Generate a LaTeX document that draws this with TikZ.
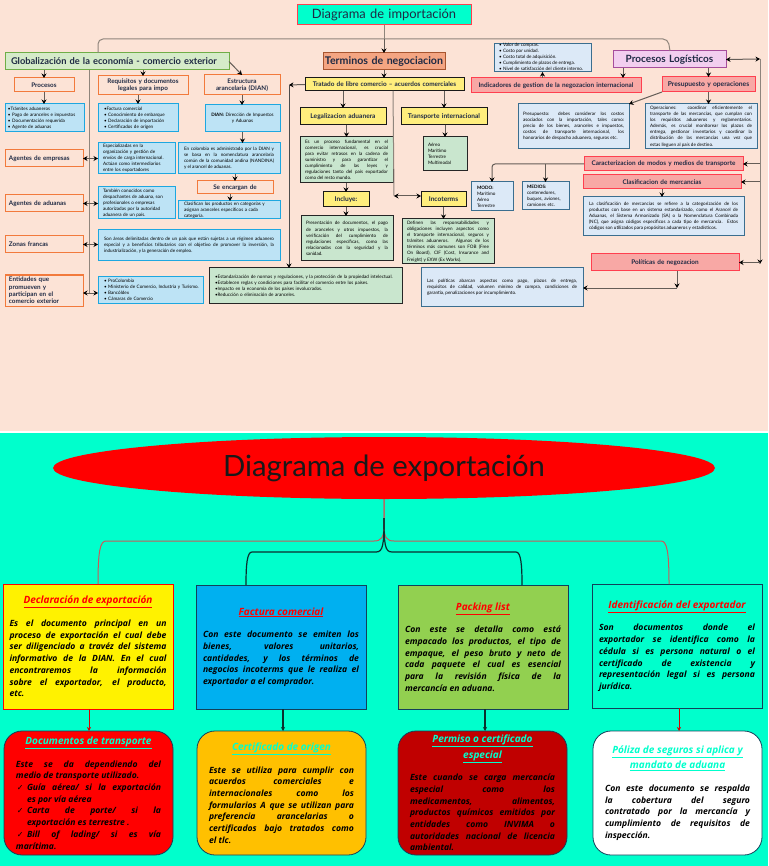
\documentclass[tikz,border=0pt]{standalone}
\usepackage{fontspec}
\setmainfont{Lato}
\newfontfamily\djf{DejaVu Sans}
\newfontfamily\dmf{Open Sans}
\usetikzlibrary{arrows.meta,calc,shapes.geometric}
\definecolor{topbg}{HTML}{FCE3D6}
\definecolor{botbg}{HTML}{00FFCC}
\definecolor{lnk}{HTML}{8F857C}
\definecolor{navy}{HTML}{1F2A44}
\definecolor{orng}{HTML}{F27A3C}
\definecolor{bfill}{HTML}{BDE3F5}
\definecolor{bline}{HTML}{1EA7E0}
\definecolor{gfill}{HTML}{C9E6CE}
\definecolor{yfill}{HTML}{FFEE7D}
\definecolor{rfill}{HTML}{F8A8A5}
\definecolor{rline}{HTML}{FF3F4F}
\definecolor{lfill}{HTML}{DCE9F7}
\definecolor{lline}{HTML}{3B6E8F}
\definecolor{redlnk}{HTML}{C85A5A}
\definecolor{darklnk}{HTML}{0B2F2F}
\definecolor{dteal}{HTML}{12405A}
\definecolor{sky}{HTML}{00B0F0}
\definecolor{lime}{HTML}{92D050}
\definecolor{amber}{HTML}{FFC000}
\definecolor{dred}{HTML}{C00000}
\definecolor{ggfill}{HTML}{D5EBC9}
\definecolor{ggline}{HTML}{70AD47}
\definecolor{salmon}{HTML}{F4A582}
\definecolor{salline}{HTML}{A8552F}
\definecolor{pfill}{HTML}{F2CEEF}
\definecolor{pline}{HTML}{A64D9B}
\newcommand\nb{\linebreak}
\newcommand\bu{\textbullet}
\newcommand\bx[8][4]{%
  \pgfmathsetmacro\bxw{#6-#4}\pgfmathsetmacro\bxh{#7-#5}\pgfmathsetmacro\bxt{#6-#4-2*#1}%
  \node[#3,minimum width=\bxw pt,minimum height=\bxh pt,text width=\bxt pt] (#2) at ({(#4+#6)/2},{(#5+#7)/2}) {\parindent=0pt\relax #8};}
\newcommand\ck{\makebox[11pt][l]{\hspace{1pt}{\djf\bfseries\upshape\fontsize{8}{8}\selectfont ✓}}}
\tikzset{
  base/.style={inner xsep=0pt,inner ysep=0pt,outer sep=0pt,line width=1pt},
  tinytxt/.style={font=\fontsize{4.6}{6.1}\selectfont},
  lab/.style={font=\fontsize{6.3}{7.4}\selectfont\bfseries,text=navy,align=center},
  obox/.style={base,draw=orng,fill=topbg,lab},
  obl/.style={obox,align=left},
  blubox/.style={base,draw=bline,fill=bfill,tinytxt,align=left},
  bbj/.style={blubox,align=justify},
  gbox/.style={base,draw=black!85,fill=gfill,tinytxt,align=justify},
  gbl/.style={gbox,align=left},
  ybox/.style={base,draw=black!90,fill=yfill,lab,font=\fontsize{6.6}{7.6}\selectfont\bfseries},
  rbox/.style={base,draw=rline,fill=rfill,lab,font=\fontsize{6.4}{7.6}\selectfont\bfseries},
  lbox/.style={base,draw=lline,fill=lfill,tinytxt,align=justify},
  lbl/.style={lbox,align=left},
  arr/.style={draw=lnk!70!black,line width=1pt,-{Stealth[length=4.5pt,width=5pt,black]}},
  arrd/.style={draw=lnk!70!black,line width=1pt,{Stealth[length=4.5pt,width=5pt,black]}-{Stealth[length=4.5pt,width=5pt,black]}},
  plain/.style={draw=lnk,line width=1pt},
  big/.style={inner xsep=0pt,inner ysep=0pt,outer sep=0pt,line width=0.8pt,font=\dmf\fontsize{8.6}{11.7}\selectfont\bfseries\itshape,align=justify,text=black},
  rnd/.style={big,rounded corners=18pt},
  redarr/.style={draw=red!85!black,line width=0.9pt,-{Stealth[length=4pt,width=4pt]}},
  blkarr/.style={draw=darklnk,line width=1.1pt,-{Stealth[length=4pt,width=4pt]}},
}
\newcommand\ttl[2]{\makebox[\linewidth]{\fontsize{10}{11.7}\selectfont\color{#1}\underline{#2}}}
\begin{document}
\begin{tikzpicture}[x=1pt,y=-1pt]
\useasboundingbox (0,0) rectangle (768,866);
\fill[topbg] (0,0) rectangle (768,433);
\fill[white] (0,431) rectangle (768,433);
\fill[botbg] (0,433) rectangle (768,866);

% ---------- TOP ----------
\bx{title}{base,draw=rline,fill=botbg,align=center,font=\fontsize{12.9}{14}\selectfont,text=navy}{297}{5}{471}{25}{Diagrama de importación}
\bx[6]{glob}{base,draw=ggline,fill=ggfill,align=left,font=\fontsize{9.3}{10}\selectfont\bfseries,text=navy}{5}{53}{229}{70}{Globalización de la economía - comercio exterior}
\bx{proc}{obox}{14}{78}{74}{92}{Procesos}
\bx{req}{obox}{98}{76}{188}{95}{Requisitos y documentos\\legales para impo}
\bx{est}{obox}{204}{75}{280}{95}{Estructura\\arancelaria (DIAN)}
\bx[3]{lista}{blubox}{5}{104}{84}{132}{\bu Trámites aduaneros\\\bu{} Pago de aranceles e impuestos\\\bu{} Documentación requerida\\\bu{} Agente de aduanas}
\bx[6]{listb}{blubox}{98}{104}{178}{132}{\bu Factura comercial\\\bu{} Conocimiento de embarque\\\bu{} Declaración de importación\\\bu{} Certificados de origen}
\bx{dian}{blubox,align=center}{205}{105}{280}{132}{\textbf{DIAN:} Dirección de Impuestos\\y Aduanas}
\bx{aemp}{obl}{5}{150}{83}{167}{Agentes de empresas}
\bx[5]{espe}{blubox}{98}{143}{175}{174}{Especializadas en la\\organización y gestión de\\envíos de carga internacional.\\Actúan como intermediarios\\entre los exportadores}
\bx[6]{aran}{bbj}{178}{143}{280}{174}{En colombia es administrado por la DIAN y\nb se basa en la nomenclatura arancelaria\nb común de la comunidad andina (NANDINA)\nb y el arancel de aduanas.}
\bx{enc}{obox}{197}{181}{273}{194}{Se encargan de}
\bx[6]{clas}{blubox}{178}{201}{280}{219}{Clasifican los productos en categorías y\\asignan aranceles específicos a cada\\categoría.}
\bx{aadu}{obl}{5}{195}{83}{212}{Agentes de aduanas}
\bx[5]{tamb}{blubox}{98}{187}{175}{219}{También conocidos como\\despachantes de aduana, son\\profesionales o empresas\\autorizadas por la autoridad\\aduanera de un país.}
\bx{zona}{obl}{5}{236}{83}{253}{Zonas francas}
\bx[6]{zont}{bbj}{98}{230}{280}{261}{Son áreas delimitadas dentro de un país que están sujetas a un régimen aduanero\nb especial y a beneficios tributarios con el objetivo de promover la inversión, la\nb industrialización, y la generación de empleo.}
\bx{enti}{obl}{5}{275}{83}{306}{Entidades que\\promueven y\\participan en el\\comercio exterior}
\bx[3]{proco}{blubox}{98}{276}{203}{303}{\hspace{3pt}\bu{} ProColombia\\\hspace*{3pt}\bu{} Ministerio de Comercio, Industria y Turismo.\\\hspace*{3pt}\bu{} Bancóldex\\\hspace*{3pt}\bu{} Cámaras de Comercio}
\bx[6]{gwide}{gbl}{209}{268}{402}{303}{\bu Estandarización de normas y regulaciones, y la protección de la propiedad intelectual.\\\bu Establecen reglas y condiciones para facilitar el comercio entre los países.\\\bu Impacto en la economía de los países involucrados.\\\bu Reducción o eliminación de aranceles.}

\bx[1]{term}{base,draw=salline,fill=salmon,lab,font=\fontsize{10.6}{11}\selectfont\bfseries}{323}{53}{445}{70}{Terminos de negociacion}
\bx[2]{trat}{ybox,font=\fontsize{6.4}{7}\selectfont\bfseries}{305}{78}{464}{91}{Tratado de libre comercio -- acuerdos comerciales}
\bx{lega}{ybox}{300}{108}{386}{125}{Legalizacion aduanera}
\bx{tran}{ybox}{401}{108}{487}{125}{Transporte internacional}
\bx[5]{lgt}{gbox}{300}{137}{393}{183}{Es un proceso fundamental en el\nb comercio internacional, es crucial\nb para evitar retrasos en la cadena de\nb suministro y para garantizar el\nb cumplimiento de las leyes y\nb regulaciones tanto del país exportador\nb como del resto mundo.}
\bx[5]{trt}{gbl}{423}{137}{467}{171}{Aéreo\\Marítimo\\Terrestre\\Multimodal}
\bx[2]{incl}{ybox}{323}{192}{369}{207}{Incluye:}
\bx[2]{inco}{ybox}{421}{192}{466}{207}{Incoterms}
\bx[5]{pres}{gbox}{301}{216}{393}{261}{Presentación de documentos, el pago\nb de aranceles y otros impuestos, la\nb verificación del cumplimiento de\nb regulaciones específicas, como las\nb relacionadas con la seguridad y la\nb sanidad.}
\bx[5]{defi}{gbox}{402}{219}{494}{264}{Definen las responsabilidades y\nb obligaciones incluyen aspectos como\nb el transporte internacional, seguros y\nb trámites aduaneros. Algunos de los\nb términos más comunes son FOB (Free\nb On Board), CIF (Cost, Insurance and\nb Freight) y EXW (Ex Works).}
\bx[6]{poli}{lbox}{421}{268}{583}{306}{Las políticas abarcan aspectos como pago, plazos de entrega,\nb requisitos de calidad, volumen mínimo de compra, condiciones de\nb garantía, penalizaciones por incumplimiento.}
\bx[6]{modo}{lbl}{471}{182}{513}{211}{\textbf{MODO:}\\Marítimo\\Aéreo\\Terrestre}
\bx[5]{medi}{lbl}{522}{182}{569}{210}{\textbf{MEDIOS:}\\contenedores,\\buques, aviones,\\camiones etc.}
\bx[2]{cara}{rbox}{584}{157}{743}{171}{Caracterizacion de modos y medios de transporte}
\bx[2]{clam}{rbox}{583}{175}{741}{189}{Clasificacion de mercancias}
\bx[6]{clat}{lbox}{583}{197}{744}{236}{La clasificación de mercancías se refiere a la categorización de los\nb productos con base en un sistema estandarizado, como el Arancel de\nb Aduanas, el Sistema Armonizado (SA) o la Nomenclatura Combinada\nb (NC), que asigna códigos específicos a cada tipo de mercancía. Estos\nb códigos son utilizados para propósitos aduaneros y estadísticos.}
\bx{polt}{rbox}{591}{254}{739}{271}{Políticas de negozacion}
\bx[2]{logi}{base,draw=pline,fill=pfill,lab,font=\fontsize{10}{11}\selectfont\bfseries}{613}{51}{726}{68}{Procesos Logísticos}
\bx[2]{opep}{rbox,font=\fontsize{6.7}{7.6}\selectfont\bfseries}{662}{77}{755}{92}{Presupuesto y operaciones}
\bx[2]{indi}{rbox}{471}{78}{641}{93}{Indicadores de gestion de la negozacion internacional}
\bx{kpi}{lbox}{494}{44}{591}{72}{}
\node[tinytxt,align=left,anchor=north west,inner sep=0pt] (kpit) at (499,43) {\bu{} Valor de compras.\\\bu{} Costo por unidad.\\\bu{} Costo total de adquisición.\\\bu{} Cumplimiento de plazos de entrega.\\\bu{} Nivel de satisfacción del cliente interno.};
\bx[5]{prst}{lbox}{518}{104}{629}{149}{Presupuesto: debes considerar los costos\nb asociados con la importación, tales como:\nb precio de los bienes, aranceles e impuestos,\nb costos de transporte internacional, los\nb honorarios de despacho aduanero, seguros etc.}
\bx[5]{oper}{lbox}{645}{104}{757}{149}{Operaciones: coordinar eficientemente el\nb transporte de las mercancías, que cumplan con\nb los requisitos aduaneros y reglamentarios.\nb Además, es crucial monitorear los plazos de\nb entrega, gestionar inventarios y coordinar la\nb distribución de las mercancías una vez que\nb estas lleguen al país de destino.}

% top connectors
\coordinate (hub) at (384,39);
\coordinate (gtop) at (98,53);
\coordinate (ltop) at (670,51);
\draw[plain,rounded corners=5pt] (gtop) -- (98,39) -- (hub) -- (668,39) -- (ltop);
\draw[plain] (title.south) -- (hub);
\draw[arr] (hub) -- (term.north);
\draw[arr] (term.south) -- (trat.north -| term.south);
\draw[arr] (proc.north |- glob.south) -- (proc.north);
\draw[arr] (req.north |- glob.south) -- (req.north);
\draw[arr] (glob.east) -- (est.north);
\draw[arr] (proc.south) -- (lista.north -| proc.south);
\draw[arr] (listb.north |- req.south) -- (listb.north);
\draw[arr] (est.south) -- (dian.north -| est.south);
\draw[arr] (dian.south) -- (aran.north -| dian.south);
\draw[arr] (enc.south |- aran.south) -- (enc.north);
\coordinate (ec) at (230,194);
\draw[arr] (ec) -- (clas.north -| ec);
\coordinate (vtop) at (89,70);
\coordinate (vbot) at (89,293);
\draw[plain] (vtop) -- (vbot);
\draw[arrd] (aemp.east) -- (aemp.east -| espe.west);
\draw[arrd] (aadu.east) -- (aadu.east -| tamb.west);
\draw[arrd] (zona.east) -- (zona.east -| zont.west);
\draw[arrd] (vbot -| enti.east) -- (vbot -| proco.west);
\coordinate (vt) at (289,85);
\coordinate (vb) at (289,268);
\draw[arr] (trat.west) -- (vt);
\draw[arr,draw=black!70] (vt) -- (vb);
\draw[arr] (lega.north |- trat.south) -- (lega.north);
\draw[arr] (tran.north |- trat.south) -- (tran.north);
\draw[arr] (lgt.north |- lega.south) -- (lgt.north);
\draw[arr] (trt.north |- tran.south) -- (trt.north);
\draw[arr] (incl.north |- lgt.south) -- (incl.north);
\draw[arr] (incl.south) -- (pres.north -| incl.south);
\draw[arr] (inco.south) -- (defi.north -| inco.south);
\coordinate (tv) at (393,91);
\coordinate (tb) at (394,196);
\draw[plain] (tv) -- (tb);
\draw[arrd] (tb) -- (inco.west |- tb);
\coordinate (rt) at (760,59);
\coordinate (rb) at (760,264);
\draw[arr,draw=lnk] (rt) -- (rb);
\draw[arrd] (logi.east) -- (rt);
\draw[arr] (rt |- cara.east) -- (cara.east);
\draw[arr] (rt |- clam.east) -- (clam.east);
\draw[arr] (rt |- polt.east) -- (polt.east);
\coordinate (ii) at (623,68);
\draw[arr] (ii) -- (ii |- indi.north);
\draw[arr] (opep.north |- logi.south) -- (opep.north);
\draw[arr] (indi.north -| kpi.south) -- (kpi.south);
\coordinate (oo) at (662,92);
\draw[arr] (oo) -- (prst.north east);
\draw[arr] (opep.south) -- (oper.north -| opep.south);
\draw[arr] (medi.north |- cara.west) -- (medi.north);
\draw[arr,rounded corners=3pt] (cara.west) -- (modo.north |- cara.west) -- (modo.north);
\draw[arr] (clam.south) -- (clat.north -| clam.south);
\coordinate (pj) at (677,288);
\draw[arr] (polt.south -| pj) -- (pj);
\draw[arr] (pj) -- (poli.east |- pj);

% ---------- BOTTOM ----------
\node[ellipse,draw=none,fill=red,minimum width=662pt,minimum height=62pt,inner sep=0pt,outer sep=0pt,font=\fontsize{29.3}{30}\selectfont,text=black!90] (ell) at (384,468) {\raisebox{2pt}{Diagrama de exportación}};

\bx[6.5]{decl}{big,draw=red,fill=yellow}{3}{584}{173}{709}{\ttl{red}{Declaración de exportación}\par\vspace{11pt}
Es el documento principal en un\nb proceso de exportación el cual debe\nb ser diligenciado a travéz del sistema\nb informativo de la DIAN. En el cual\nb encontraremos la información\nb sobre el exportador, el producto,\nb etc.}
\bx[7]{fact}{big,draw=dteal,fill=sky}{196}{585}{366}{709}{\ttl{red}{Factura comercial}\par\vspace{11pt}
Con este documento se emiten los\nb bienes, valores unitarios,\nb cantidades, y los términos de\nb negocios incoterms que le realiza el\nb exportador a el comprador.}
\bx[7]{pack}{big,draw=dteal,fill=lime}{398}{585}{568}{709}{\ttl{red}{Packing list}\par\vspace{11pt}
Con este se detalla como está\nb empacado los productos, el tipo de\nb empaque, el peso bruto y neto de\nb cada paquete el cual es esencial\nb para la revisión física de la\nb mercancía en aduana.}
\bx[7]{iden}{big,draw=dteal,fill=botbg}{592}{584}{762}{708}{\ttl{red}{Identificación del exportador}\par\vspace{11pt}
Son documentos donde el\nb exportador se identifica como la\nb cédula si es persona natural o el\nb certificado de existencia y\nb representación legal si es persona\nb jurídica.}
\bx[12]{docu}{rnd,draw=dteal,fill=red}{4}{731}{173}{855}{\ttl{botbg}{Documentos de transporte}\par\vspace{11pt}
Este se da dependiendo del\nb medio de transporte utilizado.\par
\hangindent=11pt\hangafter=1\ck Guía aérea/ si la exportación\nb es por vía aérea\par
\hangindent=11pt\hangafter=1\ck Carta de porte/ si la\nb exportación es terrestre .\par
\hangindent=11pt\hangafter=1\ck Bill of lading/ si es vía\nb marítima.}
\bx[12]{cert}{rnd,draw=dteal,fill=amber}{197}{731}{366}{855}{\ttl{botbg}{Certificado de origen}\par\vspace{11pt}
Este se utiliza para cumplir con\nb acuerdos comerciales e\nb internacionales como los\nb formularios A que se utilizan para\nb preferencia arancelarias o\nb certificados bajo tratados como\nb el tlc.}
\bx[12]{perm}{rnd,draw=dteal,fill=dred}{398}{731}{567}{855}{\ttl{botbg}{Permiso o certificado}\par\vspace{2.5pt}\ttl{botbg}{especial}\par\vspace{11pt}
Este cuando se carga mercancía\nb especial como los\nb medicamentos, alimentos,\nb productos químicos emitidos por\nb entidades como INVIMA o\nb autoridades nacional de licencia\nb ambiental.}
\bx[12]{poliz}{rnd,draw=dteal,fill=white}{593}{731}{762}{855}{\ttl{botbg}{Póliza de seguros si aplica y}\par\vspace{2.5pt}\ttl{botbg}{mandato de aduana}\par\vspace{11pt}
Con este documento se respalda\nb la cobertura del seguro\nb contratado por la mercancía y\nb cumplimiento de requisitos de\nb inspección.}

% bottom connectors
\coordinate (dtop) at (98,584);
\coordinate (itop) at (669,584);
\coordinate (ftop) at (246,585);
\coordinate (ptop) at (522,585);
\coordinate (a1) at (89,709);
\coordinate (a2) at (283,709);
\coordinate (a3) at (485,709);
\coordinate (a4) at (679,708);
\draw[draw=redlnk,line width=1pt] (ell.south) -- (384,525) .. controls (384,538) and (381,541) .. (374,541) -- (106,541) .. controls (100,541) and (98,552) .. (dtop);
\draw[draw=redlnk,line width=1pt] (ell.south) -- (384,525) .. controls (384,538) and (387,541) .. (394,541) -- (661,541) .. controls (667,541) and (669,552) .. (itop);
\draw[draw=darklnk,line width=1.2pt] (384,518) .. controls (384,545) and (383,552) .. (376,552) -- (252,552) .. controls (247,552) and (246,565) .. (ftop);
\draw[draw=darklnk,line width=1.2pt] (384,518) .. controls (384,545) and (385,552) .. (392,552) -- (516,552) .. controls (521,552) and (522,565) .. (ptop);
\draw[redarr] (a1) -- (a1 |- docu.north);
\draw[blkarr] (a2) -- (a2 |- cert.north);
\draw[blkarr] (a3) -- (a3 |- perm.north);
\draw[redarr] (a4) -- (a4 |- poliz.north);
\end{tikzpicture}
\end{document}
